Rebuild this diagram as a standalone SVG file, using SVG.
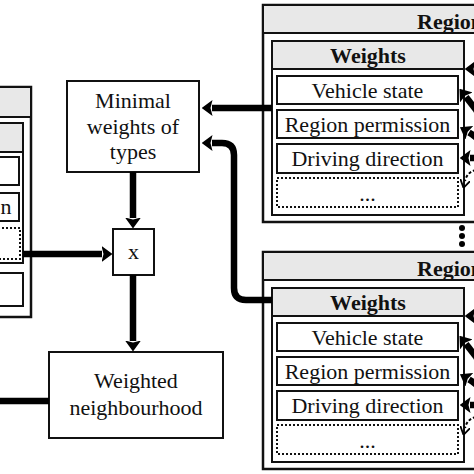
<svg xmlns="http://www.w3.org/2000/svg" width="474" height="474" viewBox="0 0 474 474">
<style>
  .box{fill:#fff;stroke:#111;stroke-width:2}
  .outer{fill:#fff;stroke:#111;stroke-width:2.5}
  .hdr{fill:#e8e8e8;stroke:#111;stroke-width:2}
  .dot{fill:none;stroke:#111;stroke-width:2;stroke-dasharray:2 2}
  .t{font-family:"Liberation Serif","Times New Roman",serif;font-size:22px;fill:#111;text-anchor:middle}
  .b{font-weight:bold}
  .con{fill:none;stroke:#000;stroke-width:6.5}
  .dash{fill:none;stroke:#000;stroke-width:2;stroke-dasharray:3 2}
</style>
<defs>
  <marker id="ah" markerUnits="userSpaceOnUse" viewBox="0 0 11 16" markerWidth="11" markerHeight="16" refX="0.5" refY="8" orient="auto">
    <path d="M0,0 L11,8 L0,16 L2,8 Z" fill="#000"/>
  </marker>
  <marker id="ahs" markerUnits="userSpaceOnUse" viewBox="0 0 8 10" markerWidth="8" markerHeight="10" refX="1" refY="5" orient="auto">
    <path d="M0,0 L8,5 L0,10" fill="none" stroke="#000" stroke-width="1.8"/>
  </marker>
  <g id="regionTpl">
    <rect class="outer" x="263" y="5" width="230" height="217"/>
    <rect class="hdr" x="263" y="5" width="230" height="28"/>
    <text class="t b" x="417" y="29" style="text-anchor:start">Region</text>
    <rect class="box" x="272" y="41" width="192" height="174"/>
    <rect class="hdr" x="272" y="41" width="192" height="28"/>
    <text class="t b" x="368" y="62.5">Weights</text>
    <rect class="box" x="277" y="76" width="181" height="28"/>
    <text class="t" x="367.5" y="97.5">Vehicle state</text>
    <rect class="box" x="277" y="110" width="181" height="28"/>
    <text class="t" x="367.5" y="131.5">Region permission</text>
    <rect class="box" x="277" y="144" width="181" height="29"/>
    <text class="t" x="367.5" y="165.5">Driving direction</text>
    <rect class="dot" x="277" y="178" width="181" height="29"/>
    <text class="t" x="367.5" y="201">...</text>
    <path class="con" d="M490,69 H475" marker-end="url(#ah)"/>
    <path class="con" d="M481,116 L466,97" marker-end="url(#ah)"/>
    <path class="con" d="M480,141 Q475,136 469,132.5" marker-end="url(#ah)"/>
    <path class="con" d="M490,158 H470" marker-end="url(#ah)"/>
    <path class="dash" d="M476,170 Q467,172 465,181" marker-end="url(#ahs)"/>
  </g>
</defs>

<g id="left-block">
  <rect class="outer" x="-10" y="87" width="41" height="230"/>
  <rect class="hdr" x="-10" y="87" width="41" height="30"/>
  <rect class="box" x="-10" y="123" width="33" height="140"/>
  <rect class="hdr" x="-10" y="123" width="33" height="29"/>
  <rect class="box" x="-10" y="157" width="29" height="28"/>
  <rect class="box" x="-10" y="193" width="29" height="28"/>
  <text class="t" x="11.5" y="214" style="text-anchor:end">n</text>
  <rect class="dot" x="-10" y="228" width="30" height="31"/>
  <rect class="box" x="-10" y="273" width="33" height="33"/>
</g>

<g id="region-1">
  <use href="#regionTpl"/>
</g>

<g id="region-2">
  <use href="#regionTpl" transform="translate(0,247)"/>
</g>

<g id="ellipsis-dots">
  <circle cx="462" cy="228" r="3" fill="#000"/>
  <circle cx="462" cy="236" r="3" fill="#000"/>
  <circle cx="462" cy="244" r="3" fill="#000"/>
</g>

<g id="minimal-weights">
  <rect class="box" x="67" y="81" width="132" height="91"/>
  <text class="t" x="133" y="108">Minimal</text>
  <text class="t" x="133" y="133.5">weights of</text>
  <text class="t" x="133" y="159">types</text>
</g>

<g id="multiply">
  <rect class="box" x="113" y="229" width="41" height="46"/>
  <text class="t" x="133.5" y="259">x</text>
</g>

<g id="weighted-neighbourhood">
  <rect class="box" x="49" y="352" width="174" height="86"/>
  <text class="t" x="136" y="388">Weighted</text>
  <text class="t" x="136" y="415">neighbourhood</text>
</g>

<g id="connectors">
  <path class="con" d="M272,108 H212" marker-end="url(#ah)"/>
  <path class="con" d="M272,300 H246 Q234,300 234,288 V155 Q234,143 222,143 H212" marker-end="url(#ah)"/>
  <path class="con" d="M133,172 V218" marker-end="url(#ah)"/>
  <path class="con" d="M133,275 V341" marker-end="url(#ah)"/>
  <path class="con" d="M23,254 H102" marker-end="url(#ah)"/>
  <path class="con" d="M0,401 H49"/>
</g>
</svg>
